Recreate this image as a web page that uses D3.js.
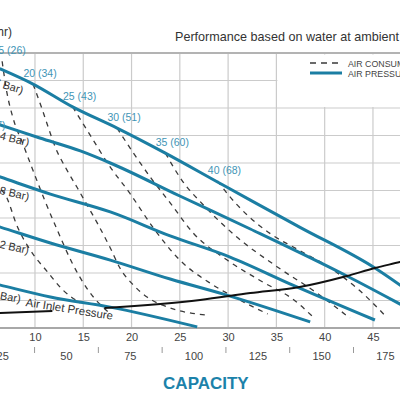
<!DOCTYPE html>
<html>
<head>
<meta charset="utf-8">
<script src="https://cdn.jsdelivr.net/npm/d3@7"></script>
<style>
body { margin: 0; background: #fff; }
svg { display: block; }
text { font-family: "Liberation Sans", Arial, sans-serif; }
</style>
</head>
<body>
<svg id="chart" width="400" height="400"></svg>
<script>
// capacity axis ticks
var gpmTicks = [5, 10, 15, 20, 25, 30, 35, 40, 45, 50];
var lpmTicks = [25, 50, 75, 100, 125, 150, 175];
var lpmMinor = [12.5, 37.5, 62.5, 87.5, 112.5, 137.5, 162.5, 187.5];
var headGrid = [0, 10, 20, 30, 40, 50, 60, 70, 80, 90, 100];

// air pressure curves [gpm, head]
var press100 = [[0, 103], [6.4, 94.2], [9.8, 88.7], [13.9, 80.4], [18.5, 72.7], [23.5, 63.6], [28.9, 53.1], [32.3, 46.5], [37.4, 36.7], [45.2, 21.8], [47.8, 15.6], [50, 10]];
var press80 = [[0, 81], [6.4, 73.8], [10.5, 69.1], [14.7, 64.4], [17.8, 60], [25, 48], [32.3, 36], [42.3, 18.9], [47.8, 8.7], [50, 4.5]];
var press60 = [[0, 62.5], [6.4, 54.9], [11.6, 48.7], [17.8, 42.2], [24, 33.5], [30.2, 25.8], [36.7, 15.6], [45.2, 2.9]];
var press40 = [[0, 43.7], [6.4, 36.7], [11.6, 30.9], [17.8, 24.7], [24, 17.8], [30.2, 11.6], [38.5, 2.2]];
var press20 = [[0, 21], [6.4, 15.6], [11.6, 11.3], [17.8, 7.6], [26.8, 0.4]];
var pressureLabels = ["100 psig (7 Bar)", "80 psig (5.4 Bar)", "70 psig (4.8 Bar)", "45 psig (3.2 Bar)", "20 psig (1.4 Bar)"];

// air consumption curves [gpm, head]
var air10 = [[4.5, 70], [5.3, 54.5], [7.1, 47.3], [8.1, 37.5], [9.5, 28.4], [11.3, 20.4], [12.9, 13.8], [14.7, 9.1]];
var air15 = [[6.6, 97], [7.1, 85.5], [7.7, 76.7], [8.8, 66.5], [9.7, 58.2], [11, 46.5], [12.4, 34.9], [13.8, 24], [15.5, 13.8], [17.8, 5.1]];
var air20 = [[9.8, 88.7], [10.7, 80], [11.4, 72.7], [12.1, 65.8], [13.3, 57.5], [14.4, 50.9], [15.4, 44.7], [16.4, 38.5], [17.8, 29.1], [18.8, 21.8], [20.2, 15.6], [21.6, 11.3], [24, 7.3], [27.8, 4.7]];
var air25 = [[13.9, 80.4], [15.7, 70.2], [17.8, 58.5], [19.8, 49.1], [22.2, 36.7], [25, 24.7], [28.1, 16.4], [31.2, 10.2], [34.1, 5.1]];
var air30 = [[18.5, 72.7], [20.2, 63.6], [22, 54.6], [24, 45.5], [26.4, 34.5], [29.9, 24.7], [33.6, 16.7], [36.7, 10.5], [38.8, 4]];
var air35 = [[23.5, 63.6], [25.2, 53.8], [27.5, 44.5], [30.9, 33.1], [35.1, 22.2], [39.2, 12.7], [42.6, 3.6]];
var air40 = [[28.9, 53.5], [30, 48.5], [32, 41], [34.5, 34], [37.5, 28], [40.5, 22], [43.5, 14], [46.4, 4]];
var airScfm = [10, 15, 20, 25, 30, 35, 40];
var airNm3 = [17, 26, 34, 43, 51, 60, 68];

// black curve, null = break for the label
var inletCurve = [[4, 5.2], [6.4, 5.45], [11.8, 6.2], [14.4, null], [17.2, 7.3], [27.1, 10.2], [32.3, 12.7], [37.4, 14.9], [42.3, 18.9], [45.2, 21.8], [47.8, 24], [50, 26]];

var blue = "#1b7ea3";
var labelBlue = "#3f95b6";

var svg = d3.select("#chart");
var x = d3.scaleLinear().domain([0, 50]).range([-61.6, 421.25]);
var xl = d3.scaleLinear().domain([0, 50 * 3.785]).range([-61.6, 421.25]);
var y = d3.scaleLinear().domain([0, 100]).range([328, 53]);

// grid
svg.append("g").selectAll("line.v").data(gpmTicks).enter().append("line")
  .attr("x1", d => x(d)).attr("x2", d => x(d))
  .attr("y1", y(100)).attr("y2", y(0))
  .attr("stroke", "#cbcbcb").attr("stroke-width", 1.2);
svg.append("g").selectAll("line.h").data(headGrid).enter().append("line")
  .attr("x1", x(0)).attr("x2", x(50))
  .attr("y1", d => y(d)).attr("y2", d => y(d))
  .attr("stroke", "#cbcbcb").attr("stroke-width", 1.2);

// legend area hides grid
svg.append("rect")
  .attr("x", x(35) + 1).attr("y", y(100) + 1.5)
  .attr("width", 200).attr("height", y(80) - y(100) - 2.5)
  .attr("fill", "#fff");

// frame lines
svg.append("line").attr("x1", x(0)).attr("x2", x(50)).attr("y1", y(100)).attr("y2", y(100))
  .attr("stroke", "#b3b3b3").attr("stroke-width", 2);
svg.append("line").attr("x1", x(0)).attr("x2", x(50)).attr("y1", y(0)).attr("y2", y(0))
  .attr("stroke", "#a8a8a8").attr("stroke-width", 2);

var line = d3.line()
  .defined(d => d[1] != null)
  .x(d => x(d[0])).y(d => y(d[1]))
  .curve(d3.curveMonotoneX);

// air consumption (dashed)
var airSeries = [air10, air15, air20, air25, air30, air35, air40];
svg.append("g").selectAll("path").data(airSeries).enter().append("path")
  .attr("d", line)
  .attr("fill", "none").attr("stroke", "#3a3a3a")
  .attr("stroke-width", 1.3).attr("stroke-dasharray", "5,5");

// air pressure (solid blue)
var pressSeries = [press100, press80, press60, press40, press20];
svg.append("g").selectAll("path").data(pressSeries).enter().append("path")
  .attr("d", line)
  .attr("fill", "none").attr("stroke", blue).attr("stroke-width", 3);

// black curve
svg.append("path").datum(inletCurve).attr("d", line)
  .attr("fill", "none").attr("stroke", "#111").attr("stroke-width", 2);

// consumption labels on top curve
svg.append("g").selectAll("text").data(airSeries).enter().append("text")
  .attr("x", d => x(d[0][0]) + 7)
  .attr("y", d => y(d[0][1]) - 7)
  .attr("text-anchor", "middle")
  .attr("font-size", 10.5).attr("fill", labelBlue)
  .text((d, i) => airScfm[i] + " (" + airNm3[i] + ")");

// pressure labels
function headAt(series, g) {
  for (var i = 1; i < series.length; i++) {
    if (series[i][0] >= g) {
      var a = series[i - 1], b = series[i];
      return a[1] + (b[1] - a[1]) * (g - a[0]) / (b[0] - a[0]);
    }
  }
  return series[series.length - 1][1];
}
var labelEnds = [8.65, 9.3, 9.3, 9.3, 8.45];
var labelDrop = [15, 12, 14, 18, 13];
var labelAngle = [17, 14, 13, 12, 10];
svg.append("g").selectAll("text").data(pressSeries).enter().append("text")
  .attr("transform", (d, i) => {
    var px = x(labelEnds[i]), py = y(headAt(d, labelEnds[i])) + labelDrop[i];
    return "translate(" + px + "," + py + ") rotate(" + labelAngle[i] + ")";
  })
  .attr("text-anchor", "end")
  .attr("font-size", 11).attr("fill", "#333")
  .text((d, i) => pressureLabels[i]);
svg.append("text")
  .attr("transform", "translate(" + (x(9)) + "," + (y(headAt(press20, 9)) + 15) + ") rotate(9)")
  .attr("font-size", 11.5).attr("fill", "#333")
  .text("Air Inlet Pressure");

// axes
var gAxis = svg.append("g").attr("transform", "translate(0," + y(0) + ")")
  .call(d3.axisBottom(x).tickValues(gpmTicks).tickSize(0).tickPadding(5));
gAxis.select(".domain").remove();
gAxis.selectAll("text").attr("font-size", 11).attr("fill", "#444")
  .style("font-family", "'Liberation Sans', Arial, sans-serif");

var lAxis = svg.append("g").attr("transform", "translate(0,346)")
  .call(d3.axisBottom(xl).tickValues(lpmTicks).tickSize(0).tickPadding(6));
lAxis.select(".domain").remove();
lAxis.selectAll("text").attr("font-size", 11).attr("fill", "#444")
  .style("font-family", "'Liberation Sans', Arial, sans-serif");

var mAxis = svg.append("g").attr("transform", "translate(0,347)")
  .call(d3.axisBottom(xl).tickValues(lpmMinor).tickSize(6).tickFormat(""));
mAxis.select(".domain").remove();
mAxis.selectAll("line").attr("stroke", "#999");

svg.append("text").attr("x", x(27.7)).attr("y", 389)
  .attr("text-anchor", "middle").attr("font-size", 17).attr("font-weight", "bold")
  .attr("fill", "#1c82aa").text("CAPACITY");

// titles
svg.append("text").attr("x", 175).attr("y", 41)
  .attr("font-size", 12.6).attr("fill", "#333")
  .text("Performance based on water at ambient temperature");
svg.append("text").attr("x", 12).attr("y", 36).attr("text-anchor", "end")
  .attr("font-size", 12).attr("fill", "#333")
  .text("AIR CONSUMPTION SCFM (Nm³/hr)");

// legend
var legend = svg.append("g").attr("transform", "translate(310,0)");
legend.append("line").attr("x1", 0).attr("x2", 32).attr("y1", 63).attr("y2", 63)
  .attr("stroke", "#3a3a3a").attr("stroke-width", 1.5).attr("stroke-dasharray", "6,5");
legend.append("line").attr("x1", 0).attr("x2", 32).attr("y1", 73).attr("y2", 73)
  .attr("stroke", blue).attr("stroke-width", 3);
legend.append("text").attr("x", 38).attr("y", 66.5).attr("font-size", 8.8).attr("fill", "#444")
  .text("AIR CONSUMPTION");
legend.append("text").attr("x", 38).attr("y", 76.5).attr("font-size", 8.8).attr("fill", "#444")
  .text("AIR PRESSURE");
</script>
</body>
</html>
